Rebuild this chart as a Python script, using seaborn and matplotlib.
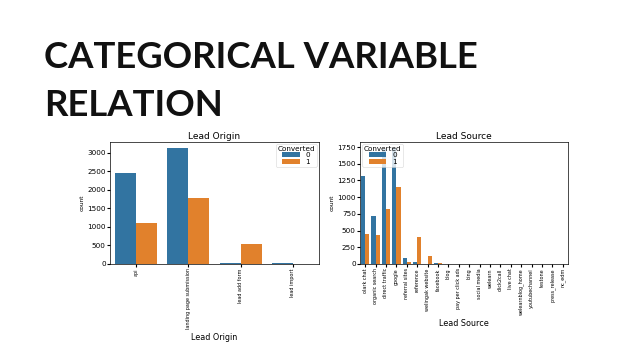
import pandas as pd
import matplotlib.pyplot as plt
import seaborn as sns

# ------------------- Data ------------------- #
origin_cats = ["api", "landing page submission", "lead add form", "lead import"]
origin_conv0 = [2460, 3140, 30, 22]
origin_conv1 = [1110, 1775, 540, 10]

source_cats = ["olark chat", "organic search", "direct traffic", "google",
               "referral sites", "reference", "welingak website", "facebook",
               "blog", "pay per click ads", "bing", "social media", "welearn",
               "click2call", "live chat", "welearnblog_home", "youtubechannel",
               "testone", "press_release", "nc_edm"]
source_conv0 = [1310, 722, 1722, 1738, 94, 32, 2, 22, 3, 1, 5, 2, 1, 1, 0, 1, 1, 1, 2, 0]
source_conv1 = [449, 434, 822, 1150, 25, 408, 124, 8, 0, 0, 1, 0, 0, 2, 2, 0, 0, 0, 0, 1]

origin_df = pd.DataFrame({
    "Lead Origin": origin_cats * 2,
    "count": origin_conv0 + origin_conv1,
    "Converted": ["0"] * len(origin_cats) + ["1"] * len(origin_cats),
})
source_df = pd.DataFrame({
    "Lead Source": source_cats * 2,
    "count": source_conv0 + source_conv1,
    "Converted": ["0"] * len(source_cats) + ["1"] * len(source_cats),
})

# ------------------- Figure ------------------- #
W, H = 638, 359
fig = plt.figure(figsize=(W / 100, H / 100), dpi=100)
fig.patch.set_facecolor("white")

fig.text(44 / W, 1 - 41 / H, "CATEGORICAL VARIABLE\nRELATION", fontsize=26.3,
         fontweight="bold", family=["Lato", "DejaVu Sans"], va="top", ha="left",
         linespacing=1.55, color="#111111")

palette = ["#1f77b4", "#ff7f0e"]


def draw(ax, df, col, title, legend_loc):
    sns.barplot(data=df, x=col, y="count", hue="Converted", palette=palette,
                ax=ax, saturation=0.75)
    ax.set_title(title, fontsize=6.5, pad=2)
    ax.set_xlabel(col, fontsize=5.8, labelpad=3)
    ax.set_ylabel("count", fontsize=4.2, labelpad=2)
    ax.tick_params(axis="x", labelsize=3.5, rotation=90, length=2, pad=1)
    ax.tick_params(axis="y", labelsize=5.2, length=2, pad=1)
    for s in ax.spines.values():
        s.set_linewidth(0.5)
    leg = ax.legend(title="Converted", loc=legend_loc, fontsize=5.2,
                    title_fontsize=5.2, handlelength=2.4, borderpad=0.25,
                    labelspacing=0.05, handletextpad=0.8, framealpha=0.8,
                    borderaxespad=0.3)
    leg.get_frame().set_linewidth(0.4)


ax1 = fig.add_axes([110 / W, 1 - 264 / H, 209 / W, 122 / H])
draw(ax1, origin_df, "Lead Origin", "Lead Origin", "upper right")

ax2 = fig.add_axes([360 / W, 1 - 264 / H, 208 / W, 122 / H])
draw(ax2, source_df, "Lead Source", "Lead Source", "upper left")

fig.savefig("out.png", dpi=100, facecolor="white")
